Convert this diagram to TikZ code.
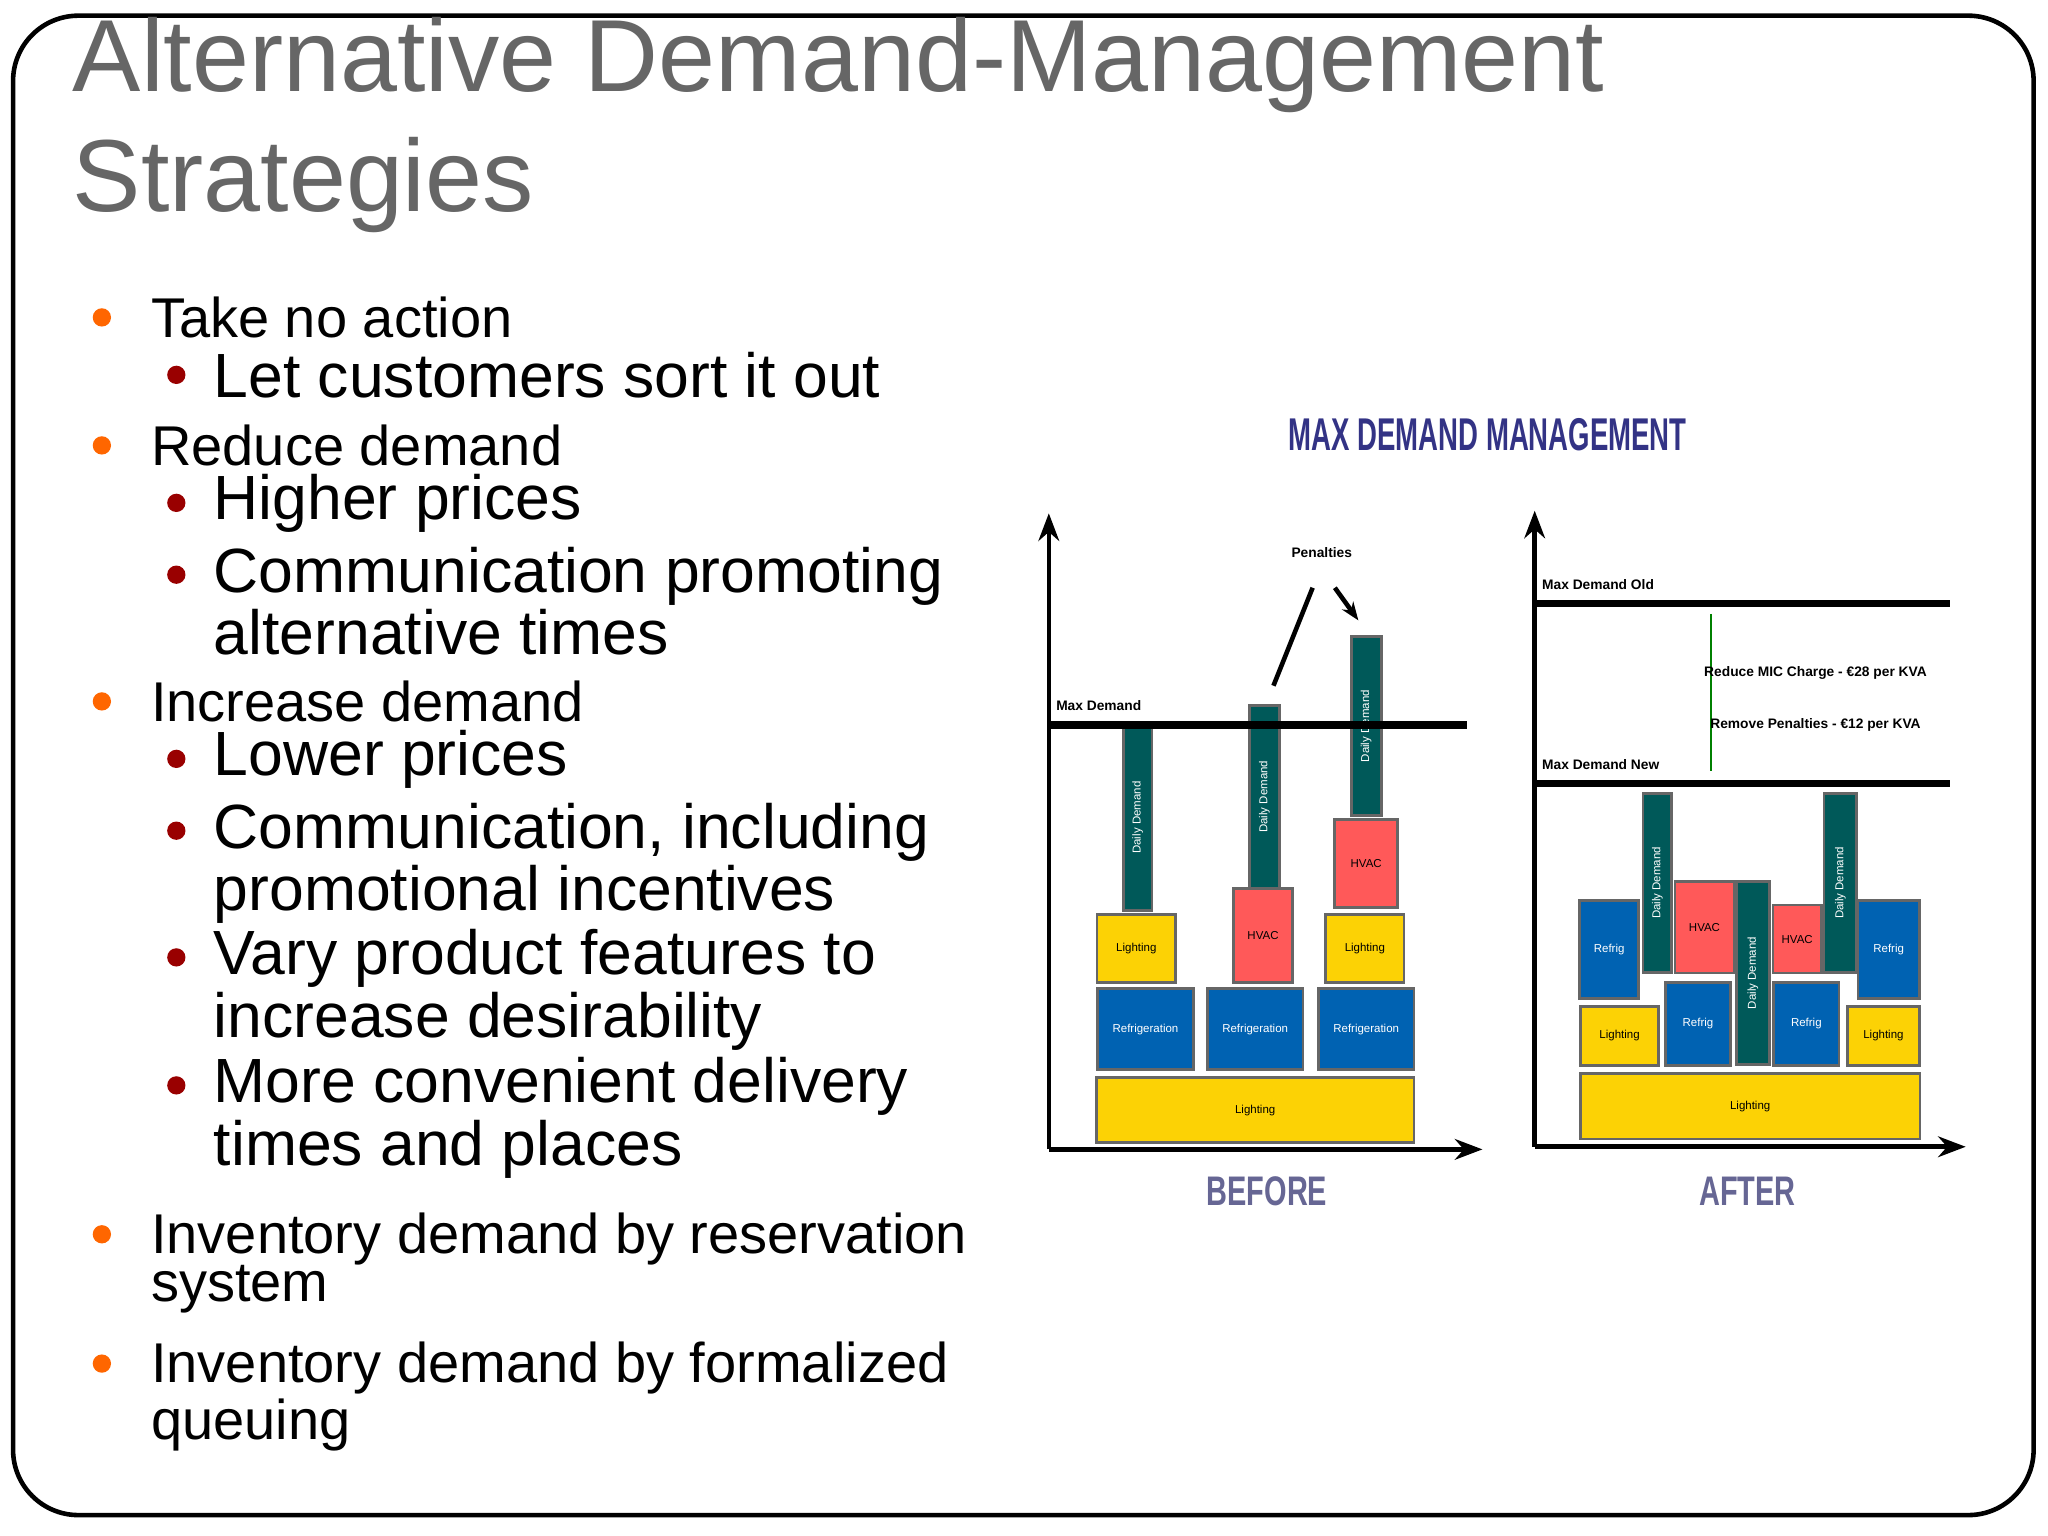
\documentclass[tikz,border=0pt]{standalone}
\usepackage{fontspec}
\setmainfont{Liberation Sans}
\usetikzlibrary{arrows.meta}
\begin{document}
\begin{tikzpicture}[x=0.01cm,y=-0.01cm,
 ttl/.style={anchor=west,text=black!60,font=\fontsize{22.3}{22}\selectfont,inner sep=0},
 l1/.style={anchor=west,font=\fontsize{12.2}{10.5}\selectfont,inner sep=0,align=left},
 l2/.style={anchor=west,font=\fontsize{13.6}{11.8}\selectfont,inner sep=0,align=left},
 d1/.style={circle,fill=orange!80!red,inner sep=0,minimum size=0.14cm},
 d2/.style={circle,fill=red!60!black,inner sep=0,minimum size=0.14cm},
 box/.style={draw=black!60,line width=0.6pt,inner sep=0,font=\fontsize{2.5}{3}\selectfont},
 yel/.style={box,fill=yellow!70!orange},
 blu/.style={box,fill=blue!45!cyan!70!black,text=white},
 red/.style={box,fill=red!65},
 grn/.style={box,fill=teal!70!black,text=white},
 ax/.style={line width=1pt,-{Stealth[length=6pt]}},
 lim/.style={line width=1.6pt},
 sm/.style={font=\fontsize{3}{3}\selectfont\bfseries,inner sep=0},
 captxt/.style={font=\fontsize{9}{9}\selectfont\bfseries,text=blue!30!black!60,inner sep=0,xscale=0.7}]
\useasboundingbox (0,0) rectangle (1568,1176);
\draw[line width=1pt,rounded corners=0.5cm] (10,12) rectangle (1557,1160);
\node[ttl] (t1) at (55,50) {Alternative Demand-Management};
\node[ttl] (t2) at (55,142) {Strategies};
% bullets
\foreach \y/\t [count=\i] in {243/Take no action,341/Reduce demand,537/Increase demand}{
 \node[d1] (a\i) at (78,\y) {}; \node[l1] (b\i) at (115,\y) {\t};}
\node[d1] (a4) at (78,945) {}; \node[l1,anchor=north west] (b4) at (115,928) {Inventory demand by reservation\\system};
\node[d1] (a5) at (78,1044) {}; \node[l1,anchor=north west] (b5) at (115,1027) {Inventory demand by formalized\\queuing};
\foreach \y/\t [count=\i] in {287/Let customers sort it out,385/Higher prices,581/Lower prices}{
 \node[d2] (c\i) at (135,\y) {}; \node[l2] (e\i) at (163,\y) {\t};}
\foreach \y/\t [count=\i from 4] in {440/Communication promoting\\alternative times,636/{Communication, including\\promotional incentives},733/Vary product features to\\increase desirability,831/More convenient delivery\\times and places}{
 \node[d2] (c\i) at (135,\y) {}; \node[l2,anchor=north west] (e\i) at (163,\y-22) {\t};}
% chart title
\node[font=\fontsize{10}{10}\selectfont\bfseries,text=blue!40!black!80,inner sep=0,xscale=0.6] (mt) at (1139,333) {MAX DEMAND MANAGEMENT};
% BEFORE
\coordinate (o1) at (803,880); \coordinate (y1) at (803,393); \coordinate (x1) at (1135,880);
\draw[ax] (o1) -- (y1); \draw[ax] (o1) -- (x1);
\node[yel,minimum width=2.43cm,minimum height=0.5cm] (bl) at (961,850) {Lighting};
\foreach \x [count=\i] in {877,961,1046}{\node[blu,minimum width=0.73cm,minimum height=0.62cm] (br\i) at (\x,788) {Refrigeration};}
\node[yel,minimum width=0.6cm,minimum height=0.52cm] (bs1) at (870,726) {Lighting};
\node[yel,minimum width=0.6cm,minimum height=0.52cm] (bs2) at (1045,726) {Lighting};
\node[red,minimum width=0.45cm,minimum height=0.72cm] (bh1) at (967,716) {HVAC};
\node[red,minimum width=0.48cm,minimum height=0.67cm] (bh2) at (1046,661) {HVAC};
\node[grn,minimum width=0.22cm,minimum height=1.42cm] (bg1) at (871,626) {\rotatebox{90}{Daily Demand}};
\node[grn,minimum width=0.23cm,minimum height=1.40cm] (bg2) at (968,610) {\rotatebox{90}{Daily Demand}};
\node[grn,minimum width=0.23cm,minimum height=1.37cm] (bg3) at (1046,556) {\rotatebox{90}{Daily Demand}};
\coordinate (m1a) at (805,555); \coordinate (m1b) at (1123,555);
\draw[lim] (m1a) -- (m1b);
\node[sm,anchor=south west] (md) at (808,545) {Max Demand};
\node[sm] (pen) at (1012,423) {Penalties};
\coordinate (p1) at (975,525); \coordinate (p2) at (1040,475);
\draw[line width=1pt] (1005,450) -- (p1);
\draw[line width=1pt,-{Stealth[length=4pt]}] (1022,450) -- (p2);
\node[captxt] (bef) at (970,912) {BEFORE};
% AFTER
\coordinate (o2) at (1175,878); \coordinate (y2) at (1175,391); \coordinate (x2) at (1505,878);
\draw[ax] (o2) -- (y2); \draw[ax] (o2) -- (x2);
\draw[lim] (1175,462) -- (1493,462);
\draw[lim] (1175,600) -- (1493,600);
\node[sm,anchor=south west] (mo) at (1180,452) {Max Demand Old};
\node[sm,anchor=south west] (mn) at (1180,590) {Max Demand New};
\draw[green!50!black,line width=0.6pt] (1310,470) -- (1310,590);
\node[sm] (r1) at (1390,515) {Reduce MIC Charge - €28 per KVA};
\node[sm] (r2) at (1390,555) {Remove Penalties - €12 per KVA};
\node[yel,minimum width=2.6cm,minimum height=0.5cm] (al) at (1340,847) {Lighting};
\node[blu,minimum width=0.45cm,minimum height=0.75cm] (ar1) at (1232,727) {Refrig};
\node[blu,minimum width=0.47cm,minimum height=0.75cm] (ar4) at (1446,727) {Refrig};
\node[blu,minimum width=0.5cm,minimum height=0.63cm] (ar2) at (1300,784) {Refrig};
\node[blu,minimum width=0.5cm,minimum height=0.63cm] (ar3) at (1383,784) {Refrig};
\node[yel,minimum width=0.6cm,minimum height=0.45cm] (as1) at (1240,793) {Lighting};
\node[yel,minimum width=0.55cm,minimum height=0.45cm] (as2) at (1442,793) {Lighting};
\node[red,minimum width=0.45cm,minimum height=0.7cm] (ah1) at (1305,710) {HVAC};
\node[red,minimum width=0.37cm,minimum height=0.52cm] (ah2) at (1376,719) {HVAC};
\node[grn,minimum width=0.22cm,minimum height=1.37cm] (ag1) at (1269,676) {\rotatebox{90}{Daily Demand}};
\node[grn,minimum width=0.25cm,minimum height=1.40cm] (ag2) at (1342,745) {\rotatebox{90}{Daily Demand}};
\node[grn,minimum width=0.25cm,minimum height=1.37cm] (ag3) at (1409,676) {\rotatebox{90}{Daily Demand}};
\node[captxt] (aft) at (1338,912) {AFTER};
\end{tikzpicture}
\end{document}
